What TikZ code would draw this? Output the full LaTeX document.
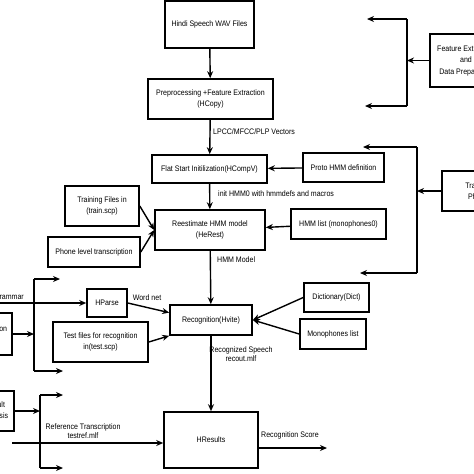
\documentclass[tikz,border=0pt]{standalone}
\usepackage{fontspec}
\setmainfont{Liberation Sans}[FakeStretch=0.88]
\usetikzlibrary{arrows.meta, positioning, calc}
\tikzstyle{flow} = [-{Stealth[length=7pt,width=6pt]}, line width=1.4pt]
\tikzstyle{bus}  = [line width=1.4pt]

\begin{document}
\begin{tikzpicture}[x=1pt, y=-1pt,
  proc box/.style={draw, line width=1.6pt, align=center, inner sep=1pt,
                   font=\fontsize{8}{11.5}\selectfont},
  lbl/.style={font=\fontsize{8}{9}\selectfont, inner sep=0pt, align=center},
  size/.style 2 args={minimum width=#1, minimum height=#2}
]
  \clip (0,0) rectangle (474,474);

  % Main chain
  \node[proc box, size={89}{47}] (wav) at (209.5,24.5) {Hindi Speech WAV Files};
  \node[proc box, size={125}{40}] (hcopy) at (210.5,99) {Preprocessing +Feature Extraction\\(HCopy)};
  \node[proc box, size={115}{28}] (hcompv) at (209.5,169) {Flat Start Initilization(HCompV)};
  \node[proc box, size={110}{40}] (herest) at (210,230) {Reestimate HMM model\\(HeRest)};
  \node[proc box, size={82}{30}] (hvite) at (211,320) {Recognition(Hvite)};
  \node[proc box, size={94}{56}] (hresults) at (211,440) {HResults};

  % Inputs
  \node[proc box, size={81}{29}] (proto) at (343.5,167.5) {Proto HMM definition};
  \node[proc box, size={95}{30}] (hmmlist) at (338.5,224) {HMM list (monophones0)};
  \node[proc box, size={74}{40}] (trainfiles) at (102,206) {Training Files in\\(train.scp)};
  \node[proc box, size={92}{30}] (phonetrans) at (94,252) {Phone level transcription};
  \node[proc box, size={40}{28}] (hparse) at (107,303) {HParse};
  \node[proc box, size={95}{40}] (testfiles) at (100.5,342) {Test files for recognition\\in(test.scp)};
  \node[proc box, size={65}{29}] (dict) at (336.5,297.5) {Dictionary(Dict)};
  \node[proc box, size={66}{30}] (monolist) at (333,334) {Monophones list};

  % Phase boxes (cut by the border)
  \node[proc box, size={72}{53}] (featprep) at (466,60.5) {Feature Extraction\\and\\Data Preparation};
  \node[proc box, size={72}{40}] (trainphase) at (478,191) {Training\\Phase};
  \node[proc box, size={47}{42}] (recphase) at (-11.5,334) {Recognition\\Phase};
  \node[proc box, size={38}{40}] (analysis) at (-5,411) {Result\\Analysis};

  % Labels
  \node[lbl, anchor=west] (vectlbl) at (213,132) {LPCC/MFCC/PLP Vectors};
  \node[lbl, anchor=west] (initlbl) at (218,194) {init HMM0 with hmmdefs and macros};
  \node[lbl, anchor=west] (modellbl) at (217,260) {HMM Model};
  \node[lbl] (netlbl) at (147,298) {Word net};
  \node[lbl, anchor=east] (gramlbl) at (24,297) {Grammar};
  \node[lbl] (speechlbl) at (241,354.5) {Recognized Speech\\recout.mlf};
  \node[lbl] (reflbl) at (83,431) {Reference Transcription\\testref.mlf};
  \node[lbl] (scorelbl) at (290,435) {Recognition Score};

  % Free ends
  \coordinate (gramstart) at (0,303);
  \coordinate (refstart) at (12,443);
  \coordinate (scoreend) at (327,448);
  \coordinate (lbusA) at (34,279);
  \coordinate (lbusB) at (34,371);
  \coordinate (lbusAend) at (60,279);
  \coordinate (lbusBend) at (63,371);
  \coordinate (lbusC) at (40,395);
  \coordinate (lbusD) at (40,468);
  \coordinate (lbusCend) at (63,395);
  \coordinate (lbusDend) at (63,468);
  \coordinate (rbusA) at (407,19);
  \coordinate (rbusB) at (407,106);
  \coordinate (rbusAend) at (367,19);
  \coordinate (rbusBend) at (365,106);
  \coordinate (rbusC) at (417,147);
  \coordinate (rbusD) at (417,273);
  \coordinate (rbusCend) at (363,147);
  \coordinate (rbusDend) at (360,273);

  % Flow
  \draw[flow] (wav) -- (hcopy);
  \draw[flow] (hcopy) -- (hcompv);
  \draw[flow] (proto) -- (hcompv);
  \draw[flow] (hcompv) -- (herest);
  \draw[flow] (hmmlist) -- (herest);
  \draw[flow] (trainfiles.east) -- (herest.west);
  \draw[flow] (phonetrans.east) -- (herest.west);
  \draw[flow] (herest) -- (hvite);
  \draw[flow] (gramstart) -- (hparse.west);
  \draw[flow] (hparse.east) -- (hvite.170);
  \draw[flow] (testfiles.east) -- (hvite.south west);
  \draw[flow] (dict.west) -- (hvite.east);
  \draw[flow] (monolist.west) -- (hvite.east);
  \draw[flow] (hvite) -- (hresults);
  \draw[flow] (refstart) -- (refstart -| hresults.west);
  \draw[flow] ([yshift=-8pt]hresults.east) -- (scoreend);

  % Phase buses
  \draw[flow] (recphase.east) -- (recphase.east -| lbusA);
  \draw[bus] (lbusA) -- (lbusB);
  \draw[flow] (lbusA) -- (lbusAend);
  \draw[flow] (lbusB) -- (lbusBend);
  \draw[flow] (analysis.east) -- (analysis.east -| lbusC);
  \draw[bus] (lbusC) -- (lbusD);
  \draw[flow] (lbusC) -- (lbusCend);
  \draw[flow] (lbusD) -- (lbusDend);
  \draw[flow] (featprep.west) -- (featprep.west -| rbusA);
  \draw[bus] (rbusA) -- (rbusB);
  \draw[flow] (rbusA) -- (rbusAend);
  \draw[flow] (rbusB) -- (rbusBend);
  \draw[flow] (trainphase.west) -- (trainphase.west -| rbusC);
  \draw[bus] (rbusC) -- (rbusD);
  \draw[flow] (rbusC) -- (rbusCend);
  \draw[flow] (rbusD) -- (rbusDend);
\end{tikzpicture}
\end{document}
